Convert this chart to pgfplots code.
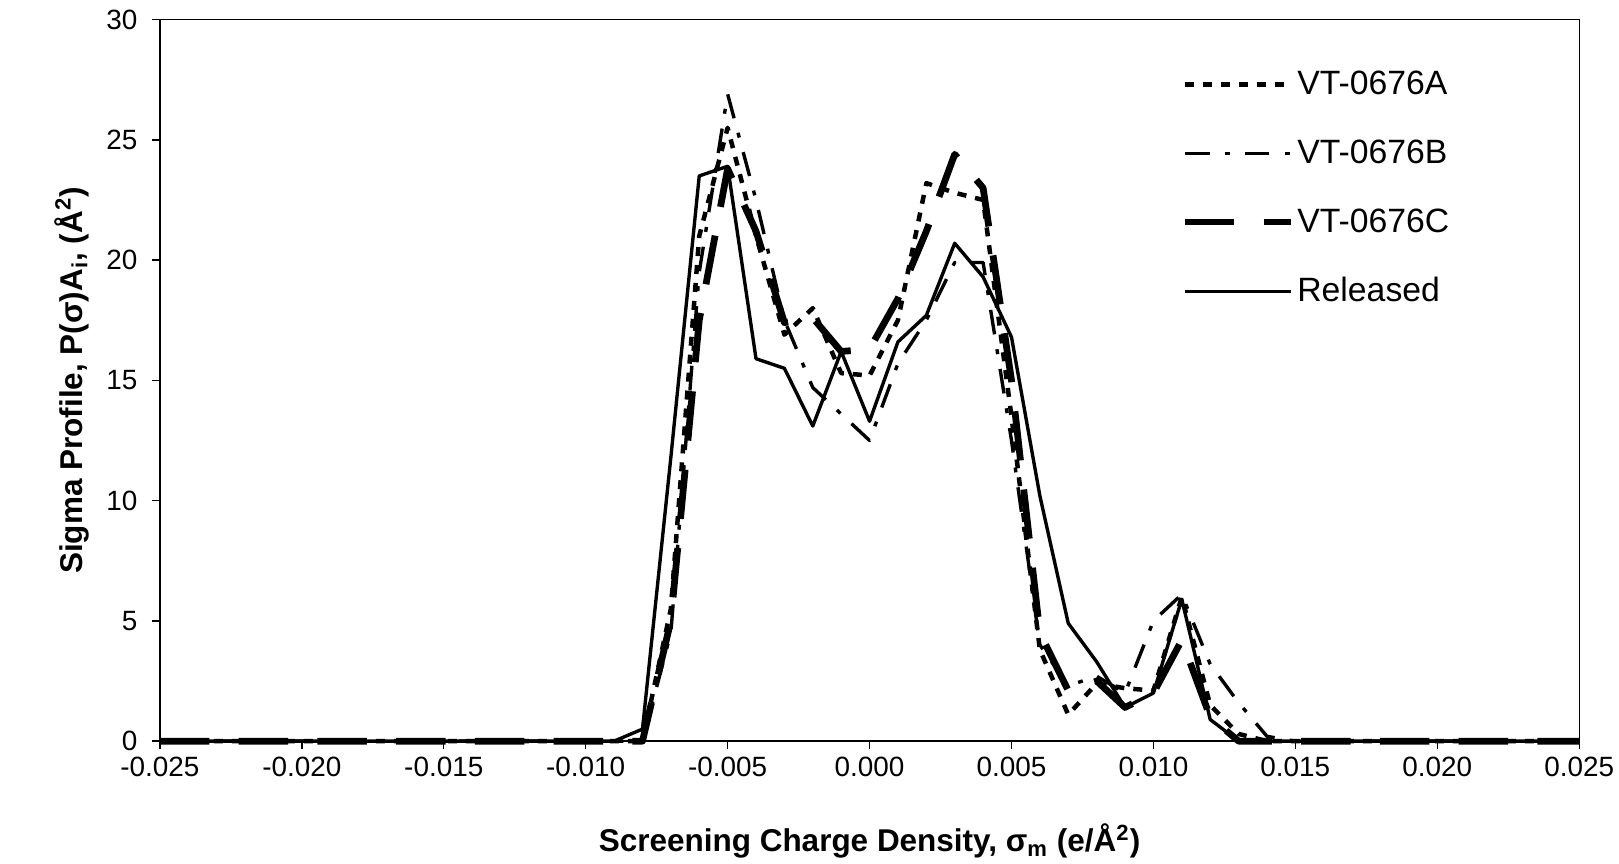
\documentclass[border=0pt]{standalone}
\usepackage{fontspec}
\setmainfont{Liberation Sans}
\usepackage{pgfplots}
\pgfplotsset{compat=1.18}
\begin{document}
\begin{tikzpicture}
\begin{axis}[
  at={(0,0)}, anchor=south west,
  scale only axis, width=631pt, height=320.8pt,
  xmin=-0.025, xmax=0.025, ymin=0, ymax=30,
  xtick={-0.025,-0.020,-0.015,-0.010,-0.005,0,0.005,0.010,0.015,0.020,0.025},
  xticklabels={-0.025,-0.020,-0.015,-0.010,-0.005,0.000,0.005,0.010,0.015,0.020,0.025},
  ytick={0,5,10,15,20,25,30},
  yticklabels={0,5,10,15,20,25,30},
  scaled x ticks=false,
  tick align=outside, major tick length=3.5pt,
  xtick pos=bottom, ytick pos=left,
  tick style={black, line width=0.6pt},
  axis line style={line width=0.6pt},
  tick label style={font=\fontsize{12.4}{14}\selectfont},
  yticklabel style={xshift=-3pt},
  xticklabel style={yshift=0pt},
  xlabel={\textbf{Screening Charge Density, σ\textsubscript{m} (e/Å\textsuperscript{2})}},
  ylabel={\textbf{Sigma Profile, P(σ)A\textsubscript{i}, (Å\textsuperscript{2})}},
  xlabel style={font=\fontsize{14}{16}\selectfont, at={(axis description cs:0.5,-0.139)}, anchor=center},
  ylabel style={font=\fontsize{14}{16}\selectfont, at={(axis description cs:-0.062,0.5)}, anchor=center, rotate=0},
  clip=false,
  legend cell align=left,
  legend style={at={(0.7195,0.934)}, anchor=north west, draw=none, fill=none,
    font=\fontsize{15}{18}\selectfont, row sep=15.6pt, inner sep=0pt,
    nodes={inner sep=1.5pt}},
  legend image code/.code={\draw[#1] (0pt,0pt) -- (47pt,0pt);},
  every axis plot/.append style={black, line join=round},
]
\addplot[line width=2pt, dash pattern=on 4pt off 4pt] coordinates {
(-0.025,0)(-0.008,0)(-0.007,5.5)(-0.006,21.0)(-0.005,25.5)(-0.004,21.0)(-0.003,16.9)(-0.002,18.0)(-0.001,15.3)(0,15.2)(0.001,17.5)(0.002,23.2)(0.003,22.8)(0.004,22.5)(0.005,13.5)(0.006,3.8)(0.007,1.1)(0.008,2.4)(0.009,2.2)(0.010,2.1)(0.011,6.0)(0.012,1.5)(0.013,0.3)(0.014,0)(0.025,0)};
\addlegendentry{VT-0676A}
\addplot[line width=1.5pt, dash pattern=on 11pt off 6.7pt on 2.2pt off 6.7pt] coordinates {
(-0.025,0)(-0.008,0)(-0.007,4.5)(-0.006,19.5)(-0.005,26.9)(-0.004,22.5)(-0.003,17.5)(-0.002,14.7)(-0.001,13.6)(0,12.5)(0.001,15.7)(0.002,17.5)(0.003,19.9)(0.004,19.9)(0.005,12.5)(0.006,4.0)(0.007,2.3)(0.008,2.7)(0.009,2.0)(0.010,5.0)(0.011,6.1)(0.012,3.2)(0.013,1.6)(0.014,0.2)(0.015,0)(0.025,0)};
\addlegendentry{VT-0676B}
\addplot[line width=3pt, dash pattern=on 22pt off 13pt] coordinates {
(-0.025,0)(-0.008,0)(-0.007,5.0)(-0.006,17.5)(-0.005,23.8)(-0.004,21.2)(-0.003,17.4)(-0.002,17.6)(-0.001,16.2)(0,16.3)(0.001,18.4)(0.002,21.2)(0.003,24.4)(0.004,23.0)(0.005,15.0)(0.006,4.5)(0.007,2.1)(0.008,2.5)(0.009,1.4)(0.010,2.0)(0.011,4.2)(0.012,1.0)(0.013,0)(0.025,0)};
\addlegendentry{VT-0676C}
\addplot[line width=1.5pt] coordinates {
(-0.025,0)(-0.009,0)(-0.008,0.5)(-0.007,11.8)(-0.006,23.5)(-0.005,23.9)(-0.004,15.9)(-0.003,15.5)(-0.002,13.1)(-0.001,16.2)(0,13.3)(0.001,16.6)(0.002,17.7)(0.003,20.7)(0.004,19.3)(0.005,16.8)(0.006,10.2)(0.007,4.9)(0.008,3.3)(0.009,1.4)(0.010,2.0)(0.011,5.9)(0.012,0.9)(0.013,0)(0.025,0)};
\addlegendentry{Released}
\end{axis}
\pgfresetboundingbox
\useasboundingbox (-71.1pt,-54.2pt) rectangle (648.7pt,329.5pt);
\end{tikzpicture}
\end{document}
